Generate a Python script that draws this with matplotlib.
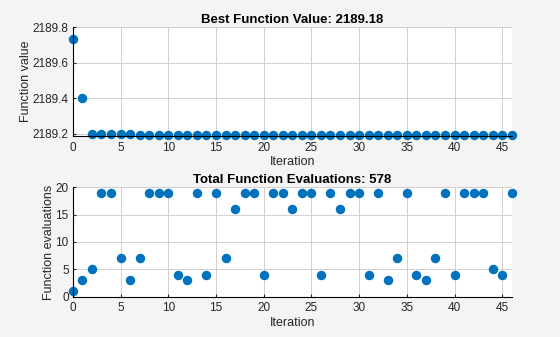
import numpy as np
import matplotlib
matplotlib.use('Agg')
import matplotlib.pyplot as plt

plt.rcParams['font.family'] = ['Liberation Sans', 'DejaVu Sans']

# Best function value per iteration
best_vals = [2189.735, 2189.40, 2189.20, 2189.20, 2189.20, 2189.20, 2189.197] + [2189.192] * 40
# Function evaluations per iteration
evals = [1, 3, 5, 19, 19, 7, 3, 7, 19, 19, 19, 4, 3, 19, 4, 19, 7, 16, 19, 19,
         4, 19, 19, 16, 19, 19, 4, 19, 16, 19, 19, 4, 19, 3, 7, 19, 4, 3, 7, 19,
         4, 19, 19, 19, 5, 4, 19]
iters = np.arange(len(evals))
top_ticks = [2189.2, 2189.4, 2189.6, 2189.8]

blue = '#0072BD'
fig = plt.figure(figsize=(5.6, 3.37), dpi=100, facecolor='#f4f4f4')

ax1 = fig.add_axes([0.130, 0.596, 0.784, 0.323])
ax2 = fig.add_axes([0.130, 0.119, 0.784, 0.326])

for ax in (ax1, ax2):
    ax.set_facecolor('white')
    ax.grid(True, color='#d0d0d0', linewidth=0.7)
    ax.set_axisbelow(True)
    for s in ['top', 'right']:
        ax.spines[s].set_visible(False)
    ax.tick_params(labelsize=8.5, length=2.5, direction='in', colors='#262626', pad=3)
    ax.tick_params(axis='x', pad=4)
    ax.set_xlim(0, 46)
    ax.set_xticks(range(0, 46, 5))
    ax.set_xlabel('Iteration', fontsize=9, labelpad=1.5, color='#262626')

ax1.plot(iters, best_vals, 'o', color=blue, ms=5.8, clip_on=False)
ax1.set_ylim(2189.186, 2189.8)
ax1.set_yticks(top_ticks)
ax1.set_yticklabels([f'{t:.1f}' for t in top_ticks])
ax1.set_ylabel('Function value', fontsize=9, color='#262626', labelpad=0.5)
ax1.set_title('Best Function Value: 2189.18', fontsize=9.5, fontweight='bold', pad=3)

ax2.plot(iters, evals, 'o', color=blue, ms=5.8, clip_on=False)
ax2.set_ylim(0, 20)
ax2.set_yticks([0, 5, 10, 15, 20])
ax2.set_ylabel('Function evaluations', fontsize=9, color='#262626', labelpad=0.5)
ax2.set_title('Total Function Evaluations: 578', fontsize=9.5, fontweight='bold', pad=3)

fig.savefig('out.png', dpi=100, facecolor=fig.get_facecolor())
